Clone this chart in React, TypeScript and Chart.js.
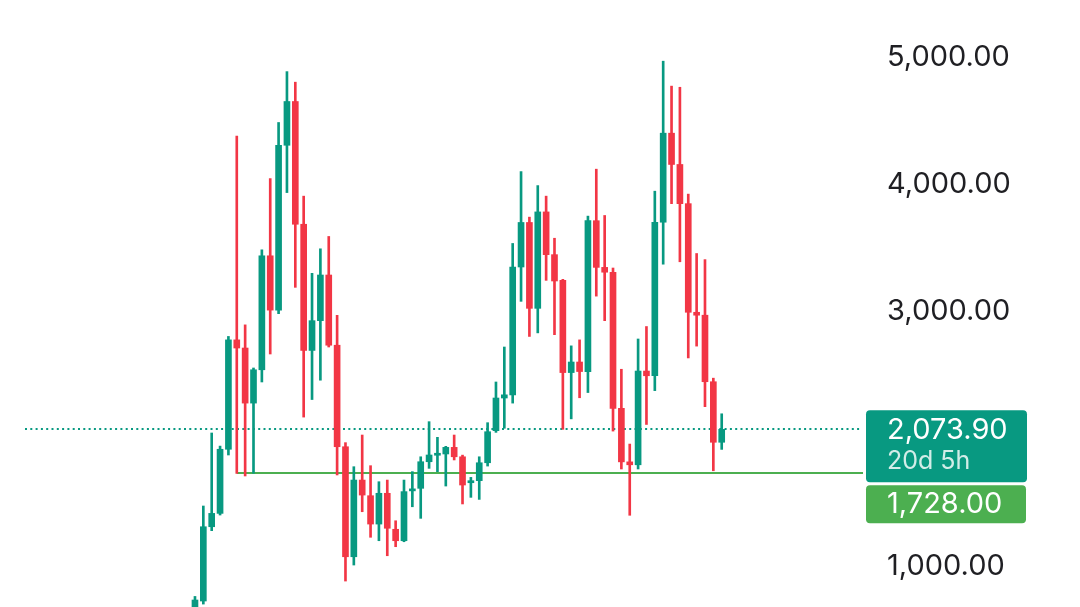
import React, { useEffect, useRef } from 'react';
import { Chart, registerables } from 'chart.js';

Chart.register(...registerables);

// Weekly candles (oldest -> newest)
const openPrices = [
  560, 724, 1308, 1413, 1917, 2777, 2713, 2280, 2542, 3438,
  3011, 4307, 4651, 3686, 2694, 2928, 3287, 2735, 1937, 1072,
  1675, 1552, 1329, 1571, 1288, 1198, 1590, 1610, 1819, 1870,
  1880, 1932, 1858, 1654, 1670, 1811, 2063, 2320, 2345, 3350,
  3700, 3025, 3783, 3447, 3245, 2520, 2603, 2528, 3714, 3347,
  3309, 2239, 1818, 1795, 2532, 2495, 3702, 4402, 4156, 3848,
  2994, 2971, 2448, 1972,
];
const highPrices = [
  760, 1471, 2045, 1942, 2804, 4380, 2895, 2556, 3485, 4045,
  4486, 4886, 4803, 3907, 3300, 3493, 3590, 2970, 1969, 1780,
  2029, 1788, 1662, 1675, 1355, 1675, 1741, 1858, 2134, 2011,
  1940, 2029, 1871, 1696, 1858, 2126, 2446, 2721, 3535, 4100,
  3742, 3990, 3907, 3576, 3253, 2730, 2777, 3750, 4119, 3755,
  3342, 2546, 1958, 2784, 2882, 3946, 4968, 4772, 4763, 3923,
  3456, 3408, 2476, 2196,
];
const lowPrices = [
  520, 700, 1277, 1400, 1872, 1728, 1707, 1728, 2446, 2666,
  2983, 3935, 3190, 2170, 2308, 2460, 2721, 1715, 881, 1007,
  1426, 1225, 1198, 1080, 1151, 1190, 1465, 1374, 1767, 1741,
  1628, 1833, 1487, 1539, 1523, 1785, 2050, 2082, 2280, 3080,
  2804, 2832, 3245, 2818, 2074, 2156, 2322, 2363, 3121, 2928,
  2060, 1762, 1398, 1762, 2112, 2378, 3372, 3848, 3391, 2635,
  2728, 2252, 1748, 1916,
];
const closePrices = [
  732, 1308, 1413, 1917, 2777, 2713, 2280, 2542, 3438, 3011,
  4307, 4651, 3686, 2694, 2928, 3287, 2735, 1937, 1072, 1675,
  1557, 1329, 1571, 1296, 1198, 1584, 1600, 1819, 1872, 1885,
  1932, 1858, 1636, 1670, 1811, 2055, 2320, 2345, 3350, 3700,
  3025, 3783, 3447, 3240, 2520, 2603, 2528, 3714, 3347, 3309,
  2239, 1818, 1795, 2532, 2495, 3702, 4402, 4156, 3848, 2994,
  2971, 2448, 1972, 2073.9,
];

const yTickValues = [1000, 2000, 3000, 4000, 5000];
const lastPrice = 2073.9;
const supportLevel = 1728.0;
const supportStartIndex = 5;
const countdownLabel = '20d 5h';

const UP = '#089981';
const DOWN = '#F23645';
const SUPPORT = '#4CAF50';
const FONT = 'Inter, "Open Sans", Roboto, sans-serif';

const fmt = (v: number) =>
  v.toLocaleString('en-US', { minimumFractionDigits: 2, maximumFractionDigits: 2 });

const roundRect = (ctx: CanvasRenderingContext2D, x: number, y: number, w: number, h: number, r: number) => {
  ctx.beginPath();
  ctx.moveTo(x + r, y);
  ctx.lineTo(x + w - r, y);
  ctx.quadraticCurveTo(x + w, y, x + w, y + r);
  ctx.lineTo(x + w, y + h - r);
  ctx.quadraticCurveTo(x + w, y + h, x + w - r, y + h);
  ctx.lineTo(x + r, y + h);
  ctx.quadraticCurveTo(x, y + h, x, y + h - r);
  ctx.lineTo(x, y + r);
  ctx.quadraticCurveTo(x, y, x + r, y);
  ctx.closePath();
};

const overlayPlugin = {
  id: 'overlay',
  beforeDatasetsDraw(chart: any) {
    const { ctx, chartArea, scales } = chart;
    const y = scales.y;
    const x = scales.x;
    ctx.save();
    // last price dotted line
    const py = Math.round(y.getPixelForValue(lastPrice));
    ctx.strokeStyle = UP;
    ctx.lineWidth = 2;
    ctx.setLineDash([2, 3.3]);
    ctx.beginPath();
    ctx.moveTo(chartArea.left + 1, py);
    ctx.lineTo(chartArea.right, py);
    ctx.stroke();
    // support line
    const sy = Math.round(y.getPixelForValue(supportLevel));
    ctx.setLineDash([]);
    ctx.strokeStyle = SUPPORT;
    ctx.lineWidth = 2;
    ctx.beginPath();
    ctx.moveTo(x.getPixelForValue(supportStartIndex), sy);
    ctx.lineTo(chartArea.right + 1, sy);
    ctx.stroke();
    ctx.restore();
  },
  afterDraw(chart: any) {
    const { ctx, chartArea, scales } = chart;
    const y = scales.y;
    ctx.save();
    const bx = chartArea.right + 4;
    const bw = 161;
    const py = y.getPixelForValue(lastPrice);
    const top1 = py - 19;
    const h1 = 72;
    ctx.fillStyle = UP;
    roundRect(ctx, bx, top1, bw, h1, 4);
    ctx.fill();
    const sy = y.getPixelForValue(supportLevel);
    const top2 = Math.max(sy - 19, top1 + h1 + 3);
    ctx.fillStyle = SUPPORT;
    roundRect(ctx, bx, top2, bw - 1, 38, 4);
    ctx.fill();

    ctx.textBaseline = 'middle';
    ctx.textAlign = 'left';
    const tx = chartArea.right + 25;
    ctx.fillStyle = '#ffffff';
    ctx.font = `29px ${FONT}`;
    ctx.fillText(fmt(lastPrice), tx, py + 1);
    ctx.fillStyle = 'rgba(255,255,255,0.82)';
    ctx.font = `25px ${FONT}`;
    ctx.fillText(countdownLabel, tx, py + 32);
    ctx.fillStyle = '#ffffff';
    ctx.font = `29px ${FONT}`;
    ctx.fillText(fmt(supportLevel), tx, top2 + 19);
    ctx.restore();
  },
};

export default function App() {
  const canvasRef = useRef<HTMLCanvasElement | null>(null);

  useEffect(() => {
    document.body.style.margin = '0';
    document.body.style.background = '#ffffff';
    const canvas = canvasRef.current;
    if (!canvas) return;

    const colors = closePrices.map((c, i) => (c >= openPrices[i] ? UP : DOWN));
    const wickData = highPrices.map((h, i) => ({ x: i, y: [lowPrices[i], h] }));
    const bodyData = closePrices.map((c, i) => ({ x: i, y: [openPrices[i], c] }));

    const chart = new Chart(canvas, {
      type: 'bar',
      data: {
        datasets: [
          {
            label: 'body',
            data: bodyData as any,
            backgroundColor: colors,
            borderWidth: 0,
            barThickness: 6,
            minBarLength: 2,
            grouped: false,
          } as any,
          {
            label: 'wick',
            data: wickData as any,
            backgroundColor: colors,
            borderWidth: 0,
            barThickness: 2,
            grouped: false,
          } as any,
        ],
      },
      options: {
        animation: false,
        responsive: false,
        maintainAspectRatio: false,
        events: [],
        layout: { padding: { left: 24, top: 0, right: 0, bottom: 0 } },
        plugins: { legend: { display: false }, tooltip: { enabled: false } },
        scales: {
          x: {
            type: 'linear',
            display: false,
            offset: false,
            min: -20.45,
            max: 79.78,
          },
          y: {
            type: 'linear',
            position: 'right',
            min: 677,
            max: 5449,
            beginAtZero: false,
            grid: { display: false, drawTicks: false },
            border: { display: false },
            afterBuildTicks: (scale: any) => {
              scale.ticks = yTickValues.map((v) => ({ value: v }));
            },
            afterFit: (scale: any) => {
              scale.width = 218;
              scale.paddingTop = 0;
              scale.paddingBottom = 0;
            },
            ticks: {
              padding: 25,
              color: '#1f1f23',
              font: { family: FONT, size: 29 },
              callback: (v: any) => fmt(Number(v)),
            },
          },
        },
      } as any,
      plugins: [overlayPlugin],
    });

    return () => chart.destroy();
  }, []);

  return (
    <div style={{ position: 'fixed', left: 0, top: 0, width: 1080, height: 607, background: '#fff' }}>
      <canvas ref={canvasRef} width={1080} height={607} style={{ width: 1080, height: 607 }} />
    </div>
  );
}
